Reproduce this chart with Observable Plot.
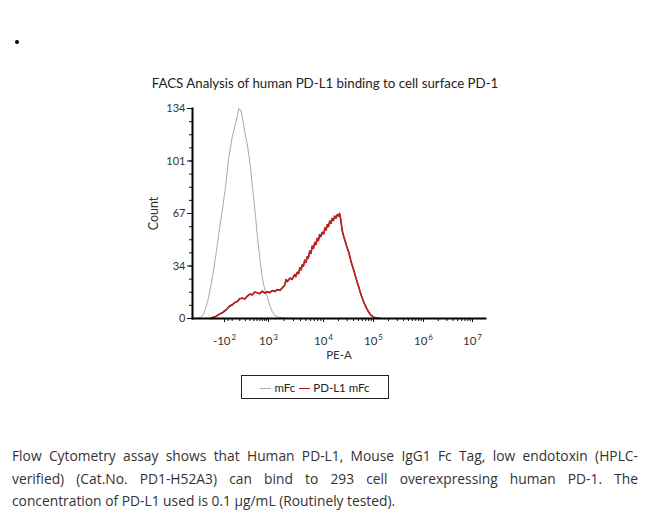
<!DOCTYPE html>
<html><head><meta charset="utf-8">
<script src="https://cdn.jsdelivr.net/npm/d3@7"></script>
<script src="https://cdn.jsdelivr.net/npm/@observablehq/plot@0.6"></script>
<style>
html,body{margin:0;padding:0;background:#fff}
body{width:650px;height:515px;position:relative;overflow:hidden;font-family:Lato,"Open Sans",sans-serif}
#bullet{position:absolute;left:15px;top:40px;width:4px;height:4px;border-radius:2px;background:#000}
#title{position:absolute;left:0;width:650px;top:75px;text-align:center;font-size:13.3px;color:#222}
#chart{position:absolute;left:0;top:95px}
#chart [aria-label="y-axis label"] text{font-size:12.5px}
#chart [aria-label="x-axis label"] text{font-size:11.5px}
#legend{position:absolute;left:241px;top:375px;width:148px;height:24px;border:1px solid #222;box-sizing:border-box;font-size:11.5px;color:#222;display:flex;align-items:center;justify-content:center;gap:4px}
#legend .sw{display:inline-block;width:11px;height:0;border-top:1.5px solid;vertical-align:middle;margin-right:3px}
#caption{position:absolute;left:12px;width:626px;top:445px;font-family:"Open Sans",sans-serif;font-size:13.8px;line-height:22.5px;color:#333}
#caption div{text-align:justify;text-align-last:justify;white-space:nowrap;overflow:visible}
#caption div.last{text-align-last:left}
</style></head>
<body>
<div id="bullet"></div>
<div id="title"></div>
<div id="chart"></div>
<div id="legend"></div>
<div id="caption"></div>
<script>
// ---- data ----
const titleText = "FACS Analysis of human PD-L1 binding to cell surface PD-1";
const seriesNames = ["mFc", "PD-L1 mFc"];
const seriesColors = ["#a9a9a9", "#e02424"];

const peA_mFc = [-1110,-900,-762,-650,-561,-470,-400,-330,-271,-200,-137,-85,-39,1,40,65,86,105,124,145,169,200,237,275,314,355,403,455,509,565,628,696,766,845,931,1060,1190,1340,1494,1900,2335,2600];
const count_mFc = [0,0.3,0.8,2.5,6.4,12.5,20,29,39.1,54.2,68.9,83.8,102.9,115.7,124.2,129,134,133,132.7,128,123.1,117,111.5,104,96.5,86,76,65,53,44,35,27,21,17,14,8.5,4.5,2,1,0.5,0.2,0];

const peA_pdl1 = [-400,-330,-271,-200,-137,-100,-61,-30,1,30,63,100,141,190,237,300,358,430,509,600,696,810,931,1060,1190,1340,1494,1680,1862,2050,2200,2335,2600,2845,3150,3300,3498,3700,3900,4100,4288,4500,4750,5000,5245,5500,5800,6100,6400,6750,7100,7450,7800,8200,8600,9000,9500,10100,10700,11300,11870,12600,13400,14200,14970,15900,16800,17800,18900,20000,21000,22300,23800,25700,27700,30000,32200,36000,40600,45500,51000,57000,64100,72000,80600,90000,101500,120000,138000];
const count_pdl1 = [0,0.8,1.3,2.5,3.6,4.8,6.2,7.9,8.7,10.2,10.8,12.6,13,12.4,14.2,15.6,15.1,16.9,16.4,15.8,17.5,16.2,17,16.5,17.8,17.2,18.4,18,19.5,21,24.8,23.6,25.8,24.9,28,26.8,29.5,28.6,32.4,31,34.2,33.4,37.2,35.8,39.4,38.6,43,41.6,46.2,44.8,48.6,47.2,51,49.8,53.6,52.2,55,54,57.8,56.4,59.8,58.6,62.2,60.8,63.8,62.6,65.4,64,66.2,65.5,67,63,56.1,52,48.7,45,42.3,36,30.6,25,20,14.8,10.4,6.8,4,2,0.8,0.3,0];

const xTicks = [-100, 1e3, 1e4, 1e5, 1e6, 1e7];
const xTickLabels = ["-10²", "10³", "10⁴", "10⁵", "10⁶", "10⁷"];
const yTicks = [0, 33.5, 67, 100.5, 134];
const yTickLabels = ["0", "34", "67", "101", "134"];
const xLabel = "PE-A";
const yLabel = "Count";
const captionLines = [
  "Flow Cytometry assay shows that Human PD-L1, Mouse IgG1 Fc Tag, low endotoxin (HPLC-",
  "verified) (Cat.No. PD1-H52A3) can bind to 293 cell overexpressing human PD-1. The",
  "concentration of PD-L1 used is 0.1 \u03bcg/mL (Routinely tested)."
];

// ---- build ----
const mFc = peA_mFc.map((x, i) => ({x, y: count_mFc[i]}));
const pdl1 = peA_pdl1.map((x, i) => ({x, y: count_pdl1[i]}));

const xMinor = [-50, 0, 100, 200, 300, 400, 500, 600, 700, 800, 900];
for (const k of [3, 4, 5, 6]) for (const m of [2,3,4,5,6,7,8,9]) xMinor.push(m * 10 ** k);
const yMinor = d3.range(0, 17).map(i => i * 134 / 16);

document.getElementById("title").textContent = titleText;

const chart = Plot.plot({
  width: 650, height: 270,
  marginLeft: 192, marginRight: 165, marginTop: 13, marginBottom: 47,
  style: {fontFamily: "Lato, sans-serif", fontSize: "11px", color: "#333", background: "transparent"},
  x: {type: "symlog", constant: 250,
      domain: [-1200, -100, 1e3, 1e4, 1e5, 1e6, 1e7, 1.8e7],
      range: [192, 224, 268, 323, 373, 423, 472, 485]},
  y: {domain: [0, 134]},
  marks: [
    Plot.line(mFc, {x: "x", y: "y", stroke: seriesColors[0], strokeWidth: 1}),
    Plot.line(pdl1, {x: "x", y: "y", stroke: "#7a1212", strokeWidth: 1.7}),
    Plot.line(pdl1, {x: "x", y: "y", stroke: seriesColors[1], strokeWidth: 1}),
    Plot.axisX({ticks: xMinor, tickSize: 3, tickFormat: () => "", label: null, stroke: "#111"}),
    Plot.axisX({ticks: xTicks, tickFormat: (d, i) => xTickLabels[i], tickSize: 4, tickPadding: 14,
                label: xLabel, labelAnchor: "center", labelArrow: "none", labelOffset: 40, stroke: "#111", fontSize: 11.5}),
    Plot.axisY({ticks: yMinor, tickSize: 3, tickFormat: () => "", label: null, stroke: "#111"}),
    Plot.axisY({ticks: yTicks, tickFormat: (d, i) => yTickLabels[i], tickSize: 5, tickPadding: 2,
                label: yLabel, labelAnchor: "center", labelArrow: "none", labelOffset: 43, stroke: "#111", fontSize: 11}),
    Plot.frame({anchor: "left", stroke: "#000", strokeWidth: 2}),
    Plot.frame({anchor: "bottom", stroke: "#000", strokeWidth: 2})
  ]
});
document.getElementById("chart").appendChild(chart);

// render superscript exponents of x tick labels as raised tspans
const supMap = {"²":"2","³":"3","⁴":"4","⁵":"5","⁶":"6","⁷":"7"};
chart.querySelectorAll('[aria-label="x-axis tick label"] text').forEach(t => {
  const s = t.textContent;
  const last = s.slice(-1);
  if (!(last in supMap)) return;
  t.textContent = "";
  const base = document.createElementNS("http://www.w3.org/2000/svg", "tspan");
  base.textContent = s.slice(0, -1);
  const sup = document.createElementNS("http://www.w3.org/2000/svg", "tspan");
  sup.textContent = supMap[last];
  sup.setAttribute("dy", "-0.55em");
  sup.setAttribute("dx", "1");
  sup.setAttribute("font-size", "8");
  t.appendChild(base); t.appendChild(sup);
});

const legend = document.getElementById("legend");
seriesNames.forEach((name, i) => {
  const item = document.createElement("span");
  const sw = document.createElement("span");
  sw.className = "sw";
  sw.style.borderTopColor = i === 1 ? "#a01c1c" : seriesColors[0];
  item.appendChild(sw);
  item.appendChild(document.createTextNode(name));
  legend.appendChild(item);
});

const cap = document.getElementById("caption");
captionLines.forEach((line, i) => {
  const d = document.createElement("div");
  d.textContent = line;
  if (i === captionLines.length - 1) d.className = "last";
  cap.appendChild(d);
});
</script>
</body></html>
